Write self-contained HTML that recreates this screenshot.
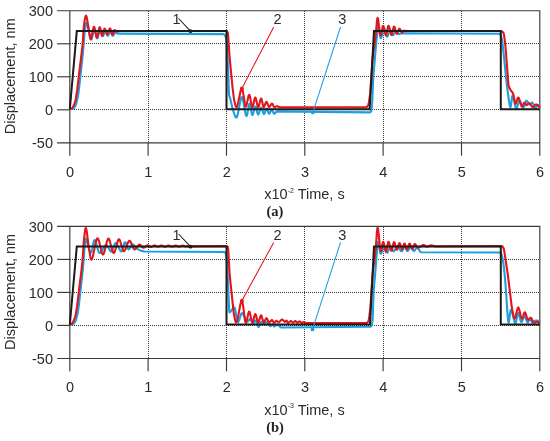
<!DOCTYPE html>
<html><head><meta charset="utf-8"><title>Displacement vs time</title>
<style>html,body{margin:0;padding:0;background:#fff}svg{display:block}</style>
</head><body>
<svg width="550" height="441" viewBox="0 0 550 441">
<style>
text{font-family:"Liberation Sans",Arial,sans-serif;font-size:14.5px;fill:#2b2b2b}
.cap{font-family:"Liberation Serif","Times New Roman",serif;font-weight:bold;font-size:14.5px;fill:#222}
.g{stroke:#383838;stroke-width:1;stroke-dasharray:1 1;fill:none}
.a{stroke:#3a3a3a;stroke-width:1.15;fill:none}
.c{fill:none;stroke-width:2.1;stroke-linejoin:round;stroke-linecap:butt}
.k{fill:none;stroke-width:2.0;stroke-linejoin:miter;stroke:#1d1a18}
</style>
<rect width="550" height="441" fill="#fff"/>
<line x1="70" y1="43.5" x2="539.8" y2="43.5" class="g"/>
<line x1="70" y1="76.5" x2="539.8" y2="76.5" class="g"/>
<line x1="70" y1="109.5" x2="539.8" y2="109.5" class="g"/>
<line x1="148.5" y1="11" x2="148.5" y2="142.9" class="g"/>
<line x1="226.5" y1="11" x2="226.5" y2="142.9" class="g"/>
<line x1="304.5" y1="11" x2="304.5" y2="142.9" class="g"/>
<line x1="383.5" y1="11" x2="383.5" y2="142.9" class="g"/>
<line x1="461.5" y1="11" x2="461.5" y2="142.9" class="g"/>
<path d="M57.1 10.7 H539.8 V155.7 M57.1 142.9 H539.8 M69.8 10.7 V155.7" class="a"/>
<line x1="57.1" y1="43.8" x2="69.8" y2="43.8" class="a"/>
<line x1="57.1" y1="76.8" x2="69.8" y2="76.8" class="a"/>
<line x1="57.1" y1="109.8" x2="69.8" y2="109.8" class="a"/>
<line x1="148.1" y1="142.9" x2="148.1" y2="155.7" class="a"/>
<line x1="226.5" y1="142.9" x2="226.5" y2="155.7" class="a"/>
<line x1="304.8" y1="142.9" x2="304.8" y2="155.7" class="a"/>
<line x1="383.1" y1="142.9" x2="383.1" y2="155.7" class="a"/>
<line x1="461.5" y1="142.9" x2="461.5" y2="155.7" class="a"/>
<text x="53" y="16.0" text-anchor="end">300</text>
<text x="53" y="49.0" text-anchor="end">200</text>
<text x="53" y="82.1" text-anchor="end">100</text>
<text x="53" y="115.1" text-anchor="end">0</text>
<text x="53" y="148.2" text-anchor="end">-50</text>
<text x="70.1" y="176.5" text-anchor="middle">0</text>
<text x="148.4" y="176.5" text-anchor="middle">1</text>
<text x="226.8" y="176.5" text-anchor="middle">2</text>
<text x="305.1" y="176.5" text-anchor="middle">3</text>
<text x="383.4" y="176.5" text-anchor="middle">4</text>
<text x="461.8" y="176.5" text-anchor="middle">5</text>
<text x="540.1" y="176.5" text-anchor="middle">6</text>
<text transform="translate(14.8 76.3) rotate(-90)" text-anchor="middle">Displacement, nm</text>
<path class="c" stroke="#1b9fe0" d="M69.80 109.20 L73.05 108.79 L73.55 108.51 L74.05 107.99 L75.05 106.44 L75.55 105.50 L76.05 104.18 L77.30 99.35 L78.05 95.58 L78.80 90.48 L82.80 54.26 L84.05 39.36 L84.55 32.54 L84.80 30.00 L85.55 24.79 L85.80 23.61 L86.05 22.92 L86.30 22.83 L86.55 23.13 L86.80 23.70 L87.30 25.47 L88.55 30.83 L90.30 37.91 L90.55 38.67 L90.80 39.23 L91.05 39.54 L91.30 39.57 L91.55 39.24 L91.80 38.61 L92.30 36.69 L93.30 31.97 L93.80 30.20 L94.05 29.69 L94.30 29.50 L94.55 29.69 L94.80 30.20 L95.30 31.94 L96.30 36.36 L96.55 37.26 L96.80 37.94 L97.05 38.33 L97.30 38.37 L97.55 38.06 L97.80 37.47 L99.30 31.73 L99.55 31.05 L99.80 30.62 L100.05 30.51 L100.30 30.68 L100.55 31.07 L101.05 32.30 L102.05 35.19 L102.30 35.72 L102.55 36.07 L102.80 36.20 L103.05 36.06 L103.30 35.67 L104.55 32.35 L104.80 31.85 L105.05 31.55 L105.30 31.52 L105.55 31.71 L105.80 32.08 L107.05 34.93 L107.30 35.38 L107.55 35.69 L107.80 35.80 L108.05 35.69 L108.30 35.38 L109.55 32.66 L109.80 32.22 L110.05 31.91 L110.30 31.80 L110.55 31.90 L110.80 32.19 L112.30 35.26 L112.55 35.60 L112.80 35.78 L113.05 35.76 L113.30 35.56 L113.80 34.78 L114.55 33.38 L114.80 33.04 L115.05 32.84 L115.30 32.80 L116.05 32.99 L117.55 33.63 L223.05 34.10 L223.55 34.23 L224.05 34.54 L224.80 35.26 L225.05 35.57 L225.30 36.02 L225.55 36.68 L226.05 38.60 L226.55 41.33 L226.80 43.82 L227.30 52.10 L228.30 74.50 L228.80 89.46 L229.05 94.61 L229.30 95.82 L230.05 97.66 L232.55 108.48 L234.55 114.59 L235.30 116.35 L235.80 117.13 L236.05 117.37 L236.30 117.49 L236.55 117.46 L236.80 117.19 L237.05 116.71 L237.55 115.19 L238.55 110.55 L240.30 101.20 L240.80 99.13 L241.30 97.68 L241.55 97.24 L241.80 97.02 L242.05 97.06 L242.30 97.41 L242.55 98.03 L243.05 99.97 L245.30 112.80 L245.80 114.81 L246.05 115.49 L246.30 115.90 L246.55 115.99 L246.80 115.65 L247.05 114.90 L247.55 112.51 L248.55 106.54 L248.80 105.31 L249.05 104.35 L249.30 103.76 L249.55 103.61 L249.80 103.94 L250.05 104.67 L250.55 107.00 L251.55 112.64 L251.80 113.74 L252.05 114.54 L252.30 114.96 L252.55 114.93 L252.80 114.56 L253.05 113.91 L254.55 107.91 L254.80 107.17 L255.05 106.68 L255.30 106.50 L255.55 106.67 L255.80 107.13 L256.30 108.70 L257.30 112.67 L257.55 113.47 L257.80 114.09 L258.05 114.44 L258.30 114.48 L258.55 114.22 L258.80 113.73 L260.30 108.80 L260.55 108.16 L260.80 107.71 L261.05 107.51 L261.30 107.59 L261.55 107.92 L262.05 109.14 L263.05 112.36 L263.55 113.58 L263.80 113.91 L264.05 113.99 L264.30 113.80 L264.55 113.37 L265.80 109.74 L266.05 109.13 L266.30 108.70 L266.55 108.51 L266.80 108.60 L267.05 108.95 L267.55 110.21 L268.30 112.52 L268.55 113.14 L268.80 113.59 L269.05 113.79 L269.30 113.73 L269.55 113.46 L270.05 112.50 L271.05 110.17 L271.30 109.77 L271.55 109.54 L271.80 109.52 L272.05 109.73 L272.30 110.12 L273.55 113.08 L273.80 113.50 L274.05 113.76 L274.30 113.79 L274.55 113.69 L275.05 113.25 L276.30 111.69 L276.55 111.47 L276.80 111.34 L369.30 112.38 L370.05 112.19 L370.80 111.75 L371.05 111.55 L371.30 110.93 L371.55 109.33 L372.05 104.42 L372.30 100.13 L373.05 81.55 L373.30 76.70 L376.30 42.01 L377.55 28.39 L377.80 26.39 L378.05 25.21 L378.30 25.06 L378.55 25.65 L378.80 26.78 L380.05 35.54 L380.30 36.92 L380.55 37.86 L380.80 38.20 L381.05 38.03 L381.30 37.56 L381.80 35.95 L383.05 30.56 L383.30 29.69 L383.55 29.02 L383.80 28.61 L384.05 28.51 L384.30 28.72 L384.55 29.18 L385.05 30.68 L386.30 35.34 L386.55 36.02 L386.80 36.48 L387.05 36.69 L387.30 36.61 L387.55 36.27 L388.05 35.01 L389.05 31.69 L389.55 30.43 L389.80 30.09 L390.05 30.00 L390.30 30.15 L390.55 30.46 L391.05 31.47 L392.05 33.97 L392.55 34.88 L392.80 35.13 L393.05 35.20 L393.30 35.10 L393.55 34.87 L395.30 32.01 L395.55 31.72 L395.80 31.55 L396.05 31.50 L396.30 31.57 L396.80 31.94 L398.30 33.66 L398.55 33.85 L398.80 33.97 L399.30 33.98 L401.55 33.25 L499.05 33.70 L499.30 33.76 L499.80 34.05 L500.30 34.50 L500.55 34.86 L500.80 35.42 L501.30 37.02 L502.05 40.24 L502.55 43.47 L506.80 84.54 L509.05 101.50 L509.55 104.48 L509.80 105.61 L510.05 106.46 L510.30 106.97 L510.55 107.08 L510.80 106.40 L511.05 104.97 L512.05 97.08 L512.30 95.92 L512.55 95.61 L512.80 95.83 L513.05 96.33 L513.55 97.99 L515.30 106.21 L515.55 107.10 L515.80 107.79 L516.05 108.24 L516.30 108.40 L516.55 108.27 L516.80 107.91 L517.30 106.68 L518.55 102.57 L519.05 101.40 L519.30 101.08 L519.55 101.00 L519.80 101.12 L520.05 101.38 L520.55 102.25 L522.30 106.55 L522.80 107.38 L523.05 107.62 L523.30 107.70 L523.55 107.58 L523.80 107.24 L524.30 106.08 L525.55 102.18 L526.05 101.08 L526.30 100.78 L526.55 100.70 L526.80 100.80 L527.05 101.02 L527.55 101.71 L528.80 103.87 L529.05 104.18 L529.30 104.40 L529.55 104.50 L529.80 104.47 L530.30 104.16 L531.55 102.90 L531.80 102.72 L532.05 102.62 L532.30 102.62 L532.55 102.78 L532.80 103.11 L533.30 104.10 L534.55 107.14 L534.80 107.59 L535.05 107.92 L535.30 108.08 L535.55 108.07 L535.80 107.90 L536.30 107.24 L537.30 105.55 L537.55 105.25 L537.80 105.05 L538.05 105.00 L538.30 105.06 L538.55 105.21 L539.05 105.72 L539.55 106.51 L539.80 107.00"/>
<path class="c" stroke="#e3151b" d="M69.80 109.20 L70.55 109.07 L71.55 108.63 L71.80 108.46 L72.30 107.91 L73.80 105.19 L74.55 103.35 L75.30 100.95 L75.80 98.83 L77.05 91.00 L82.30 47.31 L82.80 42.06 L83.55 29.92 L83.80 26.70 L84.55 21.11 L85.05 18.18 L85.30 17.06 L85.55 16.23 L85.80 15.73 L86.05 15.61 L86.30 15.93 L86.55 16.63 L87.05 18.94 L88.80 29.35 L89.80 36.13 L90.05 37.49 L90.30 38.51 L90.55 39.10 L90.80 39.17 L91.05 38.81 L91.30 38.12 L91.80 35.99 L93.05 29.29 L93.30 28.24 L93.55 27.43 L93.80 26.93 L94.05 26.81 L94.30 27.12 L94.55 27.82 L95.05 30.02 L96.05 35.36 L96.30 36.40 L96.55 37.17 L96.80 37.56 L97.05 37.52 L97.30 37.06 L97.55 36.27 L99.05 28.93 L99.30 28.02 L99.55 27.42 L99.80 27.20 L100.05 27.48 L100.30 28.22 L101.55 34.39 L101.80 35.21 L102.05 35.59 L102.30 35.47 L102.55 35.00 L103.05 33.34 L103.80 30.29 L104.05 29.47 L104.30 28.88 L104.55 28.61 L104.80 28.69 L105.05 29.03 L105.55 30.25 L106.55 33.31 L106.80 33.88 L107.05 34.26 L107.30 34.40 L107.55 34.26 L107.80 33.86 L108.30 32.54 L109.30 29.40 L109.55 28.84 L109.80 28.49 L110.05 28.41 L110.30 28.65 L110.55 29.19 L111.80 33.58 L112.05 34.25 L112.30 34.68 L112.55 34.79 L112.80 34.53 L113.05 33.98 L114.05 30.82 L114.30 30.27 L114.55 30.01 L114.80 30.05 L115.05 30.23 L116.05 31.37 L116.30 31.55 L117.80 31.54 L118.80 31.29 L119.00 31.20 M226.00 31.20 L226.50 31.31 L227.00 31.62 L227.50 32.09 L227.75 32.61 L228.00 34.28 L228.25 36.94 L229.50 56.20 L232.50 87.30 L233.75 97.40 L234.25 100.54 L235.25 104.78 L235.75 106.39 L236.00 106.93 L236.25 107.25 L236.50 107.28 L236.75 107.08 L237.00 106.67 L237.50 105.33 L238.25 102.32 L240.25 92.48 L240.75 90.53 L241.25 89.13 L241.50 88.69 L241.75 88.44 L242.00 88.44 L242.25 88.81 L242.50 89.55 L243.00 91.91 L244.75 103.27 L245.25 105.52 L245.50 106.20 L245.75 106.49 L246.00 106.38 L246.25 105.94 L246.50 105.23 L248.25 97.11 L248.50 96.17 L248.75 95.46 L249.00 95.02 L249.25 94.91 L249.50 95.21 L249.75 95.87 L250.25 98.03 L251.50 104.91 L251.75 105.97 L252.00 106.77 L252.25 107.22 L252.50 107.27 L252.75 106.91 L253.00 106.22 L254.50 99.33 L254.75 98.42 L255.00 97.79 L255.25 97.51 L255.50 97.63 L255.75 98.13 L256.25 99.97 L257.25 104.83 L257.75 106.67 L258.00 107.17 L258.25 107.29 L258.50 107.04 L258.75 106.47 L259.25 104.67 L260.25 100.32 L260.50 99.47 L260.75 98.85 L261.00 98.53 L261.25 98.58 L261.50 99.04 L261.75 99.83 L263.00 105.48 L263.25 106.32 L263.50 106.86 L263.75 107.00 L264.00 106.84 L264.25 106.49 L265.75 102.80 L266.00 102.33 L266.25 102.01 L266.50 101.90 L266.75 102.03 L267.00 102.39 L267.50 103.58 L268.25 105.72 L268.50 106.31 L268.75 106.75 L269.00 106.98 L269.25 106.97 L269.50 106.82 L270.00 106.22 L271.25 104.16 L271.50 103.87 L271.75 103.67 L272.00 103.60 L272.25 103.70 L272.50 103.98 L273.75 106.50 L274.00 106.92 L274.25 107.20 L274.50 107.30 L275.00 107.19 L276.50 106.31 L277.00 106.20 L277.50 106.28 L279.50 107.22 L366.00 107.30 L366.25 107.26 L366.75 106.98 L367.25 106.47 L368.00 105.35 L368.25 104.90 L368.50 104.21 L369.00 101.92 L370.00 95.00 L370.25 92.67 L371.00 82.30 L372.00 66.24 L372.50 60.00 L373.50 51.34 L375.50 36.83 L376.00 31.95 L376.75 23.12 L377.00 20.67 L377.25 18.85 L377.50 17.89 L377.75 17.94 L378.00 18.71 L378.25 20.04 L379.75 32.39 L380.00 33.92 L380.25 34.93 L380.50 35.30 L380.75 35.07 L381.00 34.44 L381.50 32.36 L382.50 27.38 L382.75 26.50 L383.00 25.95 L383.25 25.81 L383.50 26.13 L383.75 26.82 L385.25 33.91 L385.50 34.74 L385.75 35.22 L386.00 35.26 L386.25 34.83 L386.50 34.02 L387.75 27.72 L388.00 26.72 L388.25 26.05 L388.50 25.80 L388.75 25.98 L389.00 26.48 L389.50 28.19 L390.75 33.56 L391.00 34.32 L391.25 34.82 L391.50 35.00 L391.75 34.78 L392.00 34.18 L392.50 32.20 L393.25 28.63 L393.50 27.65 L393.75 26.92 L394.00 26.54 L394.25 26.57 L394.50 26.93 L394.75 27.57 L396.00 32.26 L396.25 33.01 L396.50 33.55 L396.75 33.79 L397.00 33.72 L397.25 33.42 L397.75 32.35 L398.75 29.66 L399.00 29.16 L399.25 28.82 L399.50 28.70 L399.75 28.81 L400.00 29.10 L401.25 31.68 L401.50 32.10 L401.75 32.39 L402.00 32.50 L402.25 32.43 L402.75 31.96 L403.50 31.07 L403.75 30.87 L404.00 30.80 L406.00 30.92 L407.00 31.20 M501.30 31.20 L501.80 31.30 L502.30 31.60 L503.05 32.37 L503.55 33.09 L503.80 33.86 L504.05 35.10 L505.05 42.69 L505.55 47.51 L507.30 70.02 L508.05 80.75 L508.30 83.48 L508.55 85.28 L509.05 86.98 L509.55 88.15 L510.80 90.30 L512.55 92.59 L513.05 93.49 L513.30 94.15 L513.80 96.36 L514.80 101.79 L515.05 102.83 L515.30 103.56 L515.55 103.89 L515.80 103.79 L516.05 103.39 L516.55 101.96 L517.55 98.50 L517.80 97.91 L518.05 97.56 L518.30 97.52 L518.55 97.71 L518.80 98.10 L519.30 99.33 L520.80 104.37 L521.30 105.70 L521.55 106.15 L521.80 106.43 L522.05 106.50 L522.30 106.34 L522.55 106.02 L523.80 103.35 L524.05 102.93 L524.30 102.67 L524.55 102.60 L524.80 102.76 L525.05 103.08 L526.05 104.86 L526.30 105.13 L526.55 105.20 L526.80 105.12 L527.30 104.74 L528.30 103.66 L528.55 103.46 L528.80 103.33 L529.05 103.30 L529.30 103.37 L529.80 103.73 L531.80 106.45 L532.30 106.92 L532.55 107.05 L532.80 107.10 L533.05 107.05 L533.55 106.74 L535.30 104.82 L535.80 104.53 L536.30 104.52 L537.05 104.73 L537.80 105.19 L538.55 105.91 L539.55 107.28 L539.80 107.70"/>
<path class="k" d="M69.8 109.2 L76.8 31.1 L226.5 31.1 L226.5 109.2 L369.6 109.2 L374.0 31.1 L500.8 31.1 L500.8 109.2 L539.8 109.2"/>
<text x="176.6" y="24.3" text-anchor="middle">1</text>
<text x="277.6" y="24.4" text-anchor="middle">2</text>
<text x="342.3" y="24.4" text-anchor="middle">3</text>
<line x1="178.6" y1="18.5" x2="190.5" y2="31.2" stroke="#1d1a18" stroke-width="1.05"/><circle cx="190.5" cy="31.2" r="1.9" fill="#1d1a18"/>
<line x1="273.7" y1="27.0" x2="241.9" y2="88.4" stroke="#e3151b" stroke-width="1.05"/><circle cx="241.9" cy="88.4" r="1.9" fill="#e3151b"/>
<line x1="340.5" y1="27.0" x2="312.9" y2="112.4" stroke="#1b9fe0" stroke-width="1.05"/><circle cx="312.9" cy="112.4" r="1.9" fill="#1b9fe0"/>
<text x="264.3" y="199.1">x10<tspan font-size="7" dy="-6.3">-2</tspan><tspan dy="6.3"> Time, s</tspan></text>
<text x="275" y="216.4" text-anchor="middle" class="cap">(a)</text>
<line x1="70" y1="259.5" x2="539.8" y2="259.5" class="g"/>
<line x1="70" y1="292.5" x2="539.8" y2="292.5" class="g"/>
<line x1="70" y1="325.5" x2="539.8" y2="325.5" class="g"/>
<line x1="148.5" y1="227" x2="148.5" y2="358.5" class="g"/>
<line x1="226.5" y1="227" x2="226.5" y2="358.5" class="g"/>
<line x1="304.5" y1="227" x2="304.5" y2="358.5" class="g"/>
<line x1="383.5" y1="227" x2="383.5" y2="358.5" class="g"/>
<line x1="461.5" y1="227" x2="461.5" y2="358.5" class="g"/>
<path d="M57.1 226.3 H539.8 V371.3 M57.1 358.5 H539.8 M69.8 226.3 V371.3" class="a"/>
<line x1="57.1" y1="259.4" x2="69.8" y2="259.4" class="a"/>
<line x1="57.1" y1="292.4" x2="69.8" y2="292.4" class="a"/>
<line x1="57.1" y1="325.4" x2="69.8" y2="325.4" class="a"/>
<line x1="148.1" y1="358.5" x2="148.1" y2="371.3" class="a"/>
<line x1="226.5" y1="358.5" x2="226.5" y2="371.3" class="a"/>
<line x1="304.8" y1="358.5" x2="304.8" y2="371.3" class="a"/>
<line x1="383.1" y1="358.5" x2="383.1" y2="371.3" class="a"/>
<line x1="461.5" y1="358.5" x2="461.5" y2="371.3" class="a"/>
<text x="53" y="231.6" text-anchor="end">300</text>
<text x="53" y="264.7" text-anchor="end">200</text>
<text x="53" y="297.7" text-anchor="end">100</text>
<text x="53" y="330.8" text-anchor="end">0</text>
<text x="53" y="363.8" text-anchor="end">-50</text>
<text x="70.1" y="392.1" text-anchor="middle">0</text>
<text x="148.4" y="392.1" text-anchor="middle">1</text>
<text x="226.8" y="392.1" text-anchor="middle">2</text>
<text x="305.1" y="392.1" text-anchor="middle">3</text>
<text x="383.4" y="392.1" text-anchor="middle">4</text>
<text x="461.8" y="392.1" text-anchor="middle">5</text>
<text x="540.1" y="392.1" text-anchor="middle">6</text>
<text transform="translate(14.8 291.9) rotate(-90)" text-anchor="middle">Displacement, nm</text>
<path class="c" stroke="#1b9fe0" d="M69.80 324.60 L73.05 324.19 L73.55 323.91 L74.05 323.39 L75.05 321.84 L75.55 320.90 L76.05 319.58 L77.30 314.75 L78.05 310.98 L78.80 305.88 L82.80 269.69 L84.55 247.57 L85.30 240.68 L85.55 239.18 L85.80 238.60 L86.05 238.80 L86.30 239.33 L86.80 241.11 L87.80 245.37 L89.55 250.62 L90.05 251.80 L90.30 252.23 L90.55 252.53 L90.80 252.69 L91.05 252.64 L91.30 252.26 L91.55 251.61 L92.05 249.64 L93.55 242.19 L93.80 241.25 L94.05 240.55 L94.30 240.11 L94.55 240.00 L94.80 240.13 L95.05 240.42 L95.55 241.43 L96.30 243.72 L98.05 250.13 L98.55 251.57 L99.05 252.58 L99.30 252.87 L99.55 253.00 L99.80 252.98 L100.30 252.75 L100.80 252.30 L101.80 250.93 L104.30 246.61 L105.05 245.64 L105.55 245.22 L106.05 245.01 L106.30 245.01 L106.55 245.09 L107.05 245.49 L107.80 246.54 L109.80 250.22 L110.30 250.94 L110.80 251.42 L111.05 251.55 L111.30 251.60 L111.55 251.52 L111.80 251.28 L112.30 250.42 L114.55 244.29 L115.05 243.39 L115.30 243.12 L115.55 243.00 L115.80 243.03 L116.05 243.14 L116.55 243.59 L117.30 244.71 L119.80 249.79 L120.55 250.91 L121.05 251.36 L121.30 251.47 L121.55 251.49 L121.80 251.32 L122.05 250.92 L122.55 249.59 L124.05 244.11 L124.55 242.78 L124.80 242.38 L125.05 242.21 L125.30 242.26 L125.55 242.51 L125.80 242.91 L126.55 244.76 L127.55 247.67 L128.05 248.78 L128.30 249.15 L128.55 249.36 L128.80 249.39 L129.05 249.29 L129.55 248.82 L131.55 245.40 L132.05 244.75 L132.30 244.54 L132.55 244.42 L132.80 244.41 L133.05 244.47 L133.55 244.80 L134.30 245.64 L136.05 248.12 L136.55 248.67 L141.30 250.89 L144.55 251.57 L224.05 252.00 L224.55 252.15 L225.05 252.52 L225.55 253.07 L225.80 253.72 L226.05 254.80 L226.55 258.00 L226.80 260.00 L227.05 262.97 L227.55 272.78 L228.55 295.96 L229.05 308.57 L229.30 312.05 L229.55 312.38 L229.80 312.25 L231.30 310.67 L233.05 308.13 L233.55 307.59 L233.80 307.42 L234.05 307.32 L234.30 307.33 L234.55 307.65 L234.80 308.28 L235.30 310.28 L236.80 318.53 L237.30 320.69 L237.55 321.43 L237.80 321.88 L238.05 322.00 L238.30 321.85 L238.55 321.52 L239.05 320.41 L240.80 314.82 L241.30 313.67 L241.55 313.30 L241.80 313.12 L242.05 313.12 L242.30 313.24 L242.80 313.74 L243.55 315.04 L245.80 320.16 L246.30 321.02 L246.80 321.59 L247.05 321.75 L247.30 321.80 L247.55 321.74 L247.80 321.58 L249.55 319.36 L249.80 319.15 L250.05 319.02 L250.30 319.02 L250.55 319.19 L250.80 319.53 L252.30 322.80 L252.55 323.19 L252.80 323.43 L253.05 323.50 L253.30 323.38 L253.55 323.13 L254.80 321.07 L255.05 320.76 L255.30 320.55 L255.55 320.51 L255.80 320.68 L256.05 321.07 L256.55 322.30 L257.55 325.38 L258.05 326.51 L258.30 326.82 L258.55 326.89 L258.80 326.71 L259.05 326.29 L260.30 322.94 L260.55 322.42 L260.80 322.09 L261.05 322.00 L261.55 322.12 L263.30 323.12 L263.80 323.28 L264.30 323.26 L265.05 322.93 L266.30 322.18 L266.80 322.02 L267.05 322.00 L267.30 322.09 L267.55 322.28 L268.05 322.91 L269.55 325.44 L270.05 326.01 L270.30 326.16 L270.55 326.20 L270.80 326.08 L271.30 325.50 L272.05 324.46 L272.30 324.26 L272.55 324.21 L272.80 324.39 L273.80 326.18 L274.05 326.45 L274.30 326.49 L274.80 326.30 L276.30 325.07 L276.80 324.82 L277.30 324.83 L278.05 325.14 L280.55 327.10 L281.30 327.46 L370.30 326.80 L370.55 326.76 L370.80 326.65 L371.30 326.22 L371.80 325.50 L372.05 324.45 L372.30 322.37 L372.55 319.61 L372.80 315.15 L373.55 292.91 L374.05 285.91 L375.05 275.38 L377.30 245.70 L377.55 243.26 L377.80 241.93 L378.05 241.89 L378.30 242.42 L378.55 243.33 L380.05 251.72 L380.30 252.76 L380.55 253.45 L380.80 253.70 L381.05 253.57 L381.30 253.19 L381.80 251.91 L383.05 247.63 L383.30 246.94 L383.55 246.41 L383.80 246.09 L384.05 246.01 L384.30 246.18 L384.55 246.56 L385.05 247.79 L386.30 251.59 L386.55 252.14 L386.80 252.52 L387.05 252.69 L387.30 252.63 L387.55 252.39 L388.05 251.45 L389.55 247.52 L389.80 247.04 L390.05 246.69 L390.30 246.52 L390.55 246.53 L390.80 246.71 L391.30 247.43 L392.80 250.55 L393.05 250.92 L393.30 251.18 L393.55 251.30 L393.80 251.27 L394.05 251.13 L394.55 250.62 L396.55 247.32 L397.05 246.75 L397.30 246.58 L397.55 246.50 L397.80 246.53 L398.05 246.67 L398.55 247.18 L400.55 250.48 L401.05 251.05 L401.30 251.22 L401.55 251.30 L401.80 251.25 L402.05 251.04 L402.55 250.28 L403.80 247.75 L404.05 247.38 L404.30 247.12 L404.55 247.00 L404.80 247.05 L405.05 247.26 L405.55 248.01 L406.80 250.41 L407.05 250.74 L407.30 250.95 L407.55 251.00 L407.80 250.91 L408.05 250.70 L408.55 250.04 L409.80 247.88 L410.30 247.25 L410.55 247.07 L410.80 247.00 L411.05 247.07 L411.30 247.26 L411.80 247.93 L413.05 250.15 L413.55 250.78 L413.80 250.96 L414.05 251.00 L414.30 250.90 L414.55 250.68 L416.05 248.31 L416.55 247.74 L416.80 247.61 L417.05 247.62 L417.30 247.71 L417.80 248.11 L420.30 251.67 L420.80 252.13 L421.05 252.25 L499.55 252.50 L500.05 252.65 L500.80 253.20 L501.05 253.51 L501.30 254.00 L501.80 255.40 L502.55 258.21 L503.05 260.90 L504.05 268.82 L505.05 278.65 L506.30 295.23 L507.30 310.82 L508.05 319.41 L508.30 321.48 L508.55 322.47 L508.80 322.23 L509.05 321.22 L510.30 311.86 L510.55 310.50 L510.80 309.77 L511.05 309.74 L511.30 310.00 L511.55 310.47 L512.05 311.91 L514.05 320.36 L514.55 322.03 L514.80 322.64 L515.05 323.07 L515.30 323.28 L515.55 323.21 L515.80 322.73 L516.05 321.89 L517.55 314.41 L517.80 313.57 L518.05 313.09 L518.30 313.03 L518.55 313.30 L518.80 313.84 L519.30 315.49 L520.55 320.51 L520.80 321.26 L521.05 321.80 L521.30 322.07 L521.55 322.06 L521.80 321.82 L522.05 321.41 L523.80 316.79 L524.05 316.35 L524.30 316.07 L524.55 316.00 L524.80 316.16 L525.05 316.51 L525.55 317.64 L526.80 321.25 L527.05 321.80 L527.30 322.22 L527.55 322.46 L527.80 322.48 L528.05 322.28 L528.55 321.42 L529.30 319.78 L529.55 319.35 L529.80 319.07 L530.05 319.00 L530.30 319.14 L530.55 319.43 L531.80 321.83 L532.05 322.20 L532.30 322.44 L532.55 322.50 L533.05 322.37 L535.30 320.71 L535.80 320.52 L537.05 320.59 L538.30 320.99 L539.30 321.59 L539.80 322.00"/>
<path class="c" stroke="#e3151b" d="M69.80 324.60 L70.55 324.47 L71.55 324.03 L71.80 323.86 L72.30 323.31 L73.80 320.59 L74.55 318.75 L75.30 316.35 L75.80 314.23 L77.05 306.40 L81.80 267.26 L82.55 259.76 L83.05 252.82 L83.55 244.43 L83.80 241.03 L84.80 232.19 L85.05 230.49 L85.30 229.17 L85.55 228.31 L85.80 228.00 L86.05 228.29 L86.30 229.10 L86.80 231.94 L88.30 243.76 L90.30 256.65 L90.55 257.86 L90.80 258.79 L91.05 259.39 L91.30 259.60 L91.55 259.50 L91.80 259.21 L92.05 258.74 L92.55 257.35 L93.55 253.22 L95.55 243.30 L96.30 240.38 L96.80 239.05 L97.05 238.62 L97.30 238.37 L97.55 238.30 L97.80 238.44 L98.05 238.75 L98.55 239.85 L99.30 242.37 L101.30 250.81 L101.80 252.52 L102.30 253.78 L102.55 254.19 L102.80 254.44 L103.05 254.50 L103.30 254.36 L103.55 254.04 L104.05 252.93 L104.80 250.38 L106.80 241.96 L107.30 240.31 L107.80 239.15 L108.05 238.79 L108.30 238.62 L108.55 238.63 L108.80 238.83 L109.05 239.20 L109.55 240.34 L112.30 250.52 L112.80 251.90 L113.05 252.40 L113.30 252.77 L113.55 252.97 L113.80 252.99 L114.05 252.83 L114.30 252.51 L114.80 251.47 L115.80 248.25 L117.55 241.82 L118.05 240.46 L118.30 239.95 L118.55 239.58 L118.80 239.36 L119.05 239.30 L119.30 239.43 L119.55 239.71 L120.05 240.69 L122.55 248.91 L123.05 250.16 L123.30 250.61 L123.55 250.93 L123.80 251.09 L124.05 251.08 L124.30 250.95 L124.55 250.72 L125.05 249.98 L126.05 247.71 L127.80 243.07 L128.30 242.02 L128.80 241.24 L129.05 240.99 L129.30 240.84 L129.55 240.80 L129.80 240.89 L130.05 241.09 L130.55 241.78 L133.05 247.65 L133.55 248.59 L134.05 249.20 L134.30 249.36 L134.55 249.40 L135.05 249.24 L135.55 248.87 L138.30 245.38 L138.80 244.92 L139.30 244.65 L139.55 244.60 L139.80 244.62 L140.30 244.87 L142.55 247.32 L143.05 247.68 L143.30 247.78 L143.55 247.80 L144.05 247.68 L144.80 247.20 L146.55 245.74 L147.05 245.48 L147.55 245.40 L148.05 245.51 L150.30 246.83 L150.80 246.98 L151.30 246.97 L152.05 246.65 L153.80 245.57 L154.30 245.42 L154.80 245.43 L155.80 245.84 L157.30 246.65 L157.80 246.79 L158.30 246.77 L160.80 245.64 L161.30 245.51 L161.80 245.53 L164.30 246.66 L164.80 246.79 L165.30 246.77 L167.80 245.64 L168.30 245.51 L168.80 245.52 L171.55 246.65 L172.05 246.70 L172.80 246.55 L174.80 245.71 L175.55 245.60 L176.55 245.82 L178.30 246.50 L179.05 246.60 L180.05 246.38 L181.80 245.70 L182.55 245.60 L185.55 246.36 L226.05 246.00 L226.55 246.10 L227.05 246.36 L227.80 247.00 L228.05 248.14 L228.30 250.77 L229.55 272.63 L230.05 278.65 L233.55 311.38 L234.05 315.07 L235.05 319.92 L235.55 321.69 L235.80 322.24 L236.05 322.49 L236.30 322.42 L236.55 322.13 L236.80 321.62 L237.30 320.09 L238.30 315.47 L240.30 304.76 L240.80 302.75 L241.30 301.35 L241.55 300.93 L241.80 300.72 L242.05 300.80 L242.30 301.35 L242.55 302.34 L243.05 305.33 L244.80 319.19 L245.05 320.66 L245.30 321.80 L245.55 322.54 L245.80 322.80 L246.05 322.63 L246.30 322.14 L246.80 320.46 L248.30 313.54 L248.55 312.67 L248.80 312.03 L249.05 311.66 L249.30 311.63 L249.55 311.96 L249.80 312.61 L250.30 314.58 L251.55 320.60 L251.80 321.49 L252.05 322.14 L252.30 322.47 L252.55 322.43 L252.80 322.06 L253.05 321.42 L254.55 315.49 L254.80 314.76 L255.05 314.28 L255.30 314.10 L255.55 314.28 L255.80 314.76 L256.30 316.41 L257.30 320.58 L257.55 321.42 L257.80 322.06 L258.05 322.43 L258.30 322.47 L258.55 322.21 L258.80 321.70 L260.30 316.64 L260.55 315.98 L260.80 315.52 L261.05 315.31 L261.30 315.42 L261.55 315.87 L262.05 317.48 L263.05 321.38 L263.30 322.04 L263.55 322.43 L263.80 322.48 L264.05 322.32 L264.30 321.99 L265.80 318.87 L266.05 318.50 L266.30 318.26 L266.55 318.20 L266.80 318.36 L267.05 318.70 L268.30 321.53 L268.55 322.00 L268.80 322.34 L269.05 322.50 L269.30 322.47 L269.55 322.34 L270.05 321.90 L271.30 320.45 L271.55 320.26 L271.80 320.13 L272.05 320.10 L272.30 320.24 L272.55 320.52 L273.55 322.23 L273.80 322.56 L274.05 322.76 L274.30 322.79 L274.55 322.66 L275.05 322.14 L275.80 321.17 L276.05 320.94 L276.30 320.81 L276.55 320.82 L276.80 320.93 L278.05 322.03 L278.30 322.16 L278.55 322.20 L279.05 322.04 L279.80 321.46 L281.30 319.99 L281.80 319.68 L282.05 319.61 L282.30 319.61 L282.55 319.69 L283.05 320.09 L284.30 321.46 L284.55 321.65 L284.80 321.77 L285.05 321.80 L285.30 321.68 L286.05 320.86 L286.30 320.66 L286.55 320.61 L286.80 320.83 L287.55 322.32 L287.80 322.69 L288.05 322.80 L288.30 322.75 L288.80 322.46 L290.30 321.20 L290.80 321.01 L291.05 321.02 L291.30 321.15 L292.55 322.41 L292.80 322.56 L293.05 322.60 L293.30 322.53 L293.80 322.15 L294.80 321.19 L295.05 321.05 L295.30 321.00 L295.55 321.06 L296.05 321.48 L297.05 322.60 L297.30 322.76 L297.55 322.80 L297.80 322.71 L299.05 321.58 L299.30 321.44 L299.55 321.40 L299.80 321.46 L300.30 321.79 L301.30 322.69 L301.80 322.97 L302.05 323.00 L302.30 322.94 L303.55 322.13 L303.80 322.03 L304.05 322.00 L304.30 322.07 L305.55 322.96 L305.80 323.07 L366.05 323.10 L366.55 322.99 L367.05 322.70 L367.80 321.99 L368.30 321.33 L368.55 320.60 L368.80 319.50 L369.30 316.41 L370.05 310.58 L370.55 304.97 L372.30 278.31 L373.30 268.52 L375.30 252.77 L375.80 247.81 L376.80 233.76 L377.05 230.85 L377.30 228.78 L377.55 227.83 L377.80 228.06 L378.05 229.06 L378.30 230.68 L380.05 248.03 L380.30 249.76 L380.55 250.89 L380.80 251.30 L381.05 251.01 L381.30 250.23 L382.55 243.51 L382.80 242.50 L383.05 241.91 L383.30 241.84 L383.55 242.26 L383.80 243.05 L385.05 249.37 L385.30 250.45 L385.55 251.24 L385.80 251.66 L386.05 251.60 L386.30 251.07 L386.55 250.15 L387.80 243.57 L388.05 242.59 L388.30 241.97 L388.55 241.81 L388.80 242.05 L389.05 242.60 L389.55 244.34 L390.55 248.66 L390.80 249.56 L391.05 250.25 L391.30 250.69 L391.55 250.79 L391.80 250.48 L392.05 249.80 L393.30 244.06 L393.55 243.10 L393.80 242.42 L394.05 242.11 L394.30 242.22 L394.55 242.67 L395.05 244.29 L396.05 248.35 L396.30 249.11 L396.55 249.61 L396.80 249.80 L397.05 249.64 L397.30 249.19 L397.80 247.69 L398.80 244.13 L399.05 243.50 L399.30 243.11 L399.55 243.01 L399.80 243.24 L400.05 243.75 L401.30 248.03 L401.55 248.75 L401.80 249.26 L402.05 249.49 L402.30 249.38 L402.55 248.95 L403.05 247.42 L403.80 244.73 L404.05 244.05 L404.30 243.62 L404.55 243.51 L404.80 243.74 L405.05 244.24 L406.30 248.35 L406.55 248.99 L406.80 249.39 L407.05 249.49 L407.30 249.28 L407.55 248.82 L408.80 244.93 L409.05 244.28 L409.30 243.82 L409.55 243.61 L409.80 243.69 L410.05 244.01 L410.55 245.16 L411.55 248.06 L411.80 248.60 L412.05 248.97 L412.30 249.10 L412.55 248.95 L412.80 248.53 L414.05 244.92 L414.30 244.38 L414.55 244.06 L414.80 244.01 L415.05 244.11 L415.55 244.59 L417.05 246.88 L417.55 247.42 L417.80 247.56 L418.05 247.60 L418.80 247.44 L421.05 246.29 L422.55 245.29 L423.05 245.07 L423.55 245.00 L424.05 245.12 L426.30 246.61 L426.80 246.78 L427.30 246.78 L428.55 246.33 L430.30 245.51 L431.05 245.40 L435.55 246.38 L501.55 246.00 L501.80 246.06 L502.30 246.38 L503.05 247.28 L503.55 248.09 L503.80 248.80 L504.30 251.20 L507.80 274.49 L511.55 305.25 L512.30 309.99 L513.55 316.05 L514.05 317.82 L514.30 318.35 L514.55 318.59 L514.80 318.50 L515.05 318.13 L515.30 317.51 L515.80 315.75 L517.05 310.25 L517.55 308.55 L517.80 307.98 L518.05 307.66 L518.30 307.62 L518.55 307.86 L518.80 308.34 L519.30 309.83 L520.80 316.00 L521.30 317.62 L521.55 318.17 L521.80 318.51 L522.05 318.59 L522.30 318.40 L522.55 317.97 L523.05 316.61 L524.05 313.41 L524.30 312.83 L524.55 312.44 L524.80 312.30 L525.05 312.42 L525.30 312.77 L525.80 313.97 L527.05 318.08 L527.55 319.34 L527.80 319.72 L528.05 319.89 L528.30 319.86 L528.55 319.73 L530.05 318.04 L530.30 317.84 L530.55 317.72 L530.80 317.71 L531.05 317.85 L531.30 318.12 L531.80 318.96 L533.05 321.64 L533.55 322.44 L533.80 322.69 L534.05 322.80 L534.55 322.74 L536.55 321.86 L537.05 321.80 L537.80 321.96 L538.55 322.37 L539.80 323.50"/>
<path class="k" d="M69.8 324.6 L76.8 246.6 L226.5 246.6 L226.5 324.6 L370.0 324.6 L374.0 246.6 L500.8 246.6 L500.8 324.6 L539.8 324.6"/>
<text x="176.6" y="239.8" text-anchor="middle">1</text>
<text x="277.6" y="239.9" text-anchor="middle">2</text>
<text x="342.3" y="239.9" text-anchor="middle">3</text>
<line x1="178.6" y1="234.0" x2="190.5" y2="246.7" stroke="#1d1a18" stroke-width="1.05"/><circle cx="190.5" cy="246.7" r="1.9" fill="#1d1a18"/>
<line x1="273.7" y1="242.5" x2="241.9" y2="300.7" stroke="#e3151b" stroke-width="1.05"/><circle cx="241.9" cy="300.7" r="1.9" fill="#e3151b"/>
<line x1="340.5" y1="242.5" x2="312.5" y2="329.4" stroke="#1b9fe0" stroke-width="1.05"/><circle cx="312.5" cy="329.4" r="1.9" fill="#1b9fe0"/>
<text x="264.3" y="414.6">x10<tspan font-size="7" dy="-6.3">-3</tspan><tspan dy="6.3"> Time, s</tspan></text>
<text x="275" y="431.9" text-anchor="middle" class="cap">(b)</text>
</svg>
</body></html>
